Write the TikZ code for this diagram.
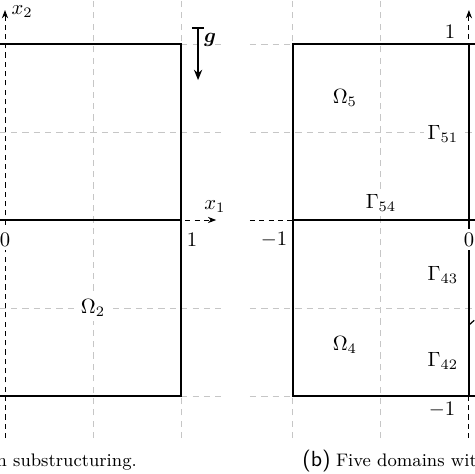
\documentclass[tikz,border=0pt]{standalone}
\usepackage{amsmath,amssymb,bm}
\usetikzlibrary{arrows.meta}
\begin{document}
\begin{tikzpicture}[x=3cm,y=3cm,
  gridline/.style={gray!45,line width=0.45pt,dash pattern=on 3pt off 2.5pt},
  axisline/.style={black,line width=0.45pt,dash pattern=on 2.5pt off 2pt},
  axisarrow/.style={axisline,-{Stealth[length=4pt,width=3pt]}},
  domline/.style={black,line width=0.9pt},
  lbl/.style={fill=white,inner sep=2pt},
  plain/.style={inner sep=1pt}
]
\useasboundingbox (-0.0284,-1.4432) rectangle (2.6648,1.25);
% ---------- left panel ----------
\begin{scope}
  \foreach \y in {1,0.5,-0.5,-1} \draw[gridline] (-0.03,\y) -- (1.244,\y);
  \foreach \x in {0.5,1} \draw[gridline] (\x,-1.239) -- (\x,1.25);
  \coordinate (Lbot) at (0,-1.239);
  \coordinate (Ltop) at (0,1.193);
  \coordinate (Lx1) at (1.2,0);
  \coordinate (Lleft) at (-0.03,0);
  \draw[axisarrow] (Lbot) -- (Ltop);
  \draw[axisarrow] (Lleft) -- (Lx1);
  \draw[domline] (-0.03,1) -- (1,1) -- (1,-1) -- (-0.03,-1);
  \draw[domline] (-0.03,0) -- (1,0);
  \node[lbl] (o0) at (0,-0.11) {$0$};
  \node[plain] (o1) at (1.0625,-0.114) {$1$};
  \node[plain] (lx1) at (1.193,0.074) {$x_1$};
  \node[plain] (lx2) at (0.097,1.186) {$x_2$};
  \node[lbl] (om2) at (0.5,-0.5) {$\Omega_2$};
  \coordinate (gs) at (1.097,1.097);
  \coordinate (ge) at (1.097,0.795);
  \draw[line width=0.8pt,{Bar[width=6pt]}-{Stealth[length=5pt,width=4pt]}] (gs) -- (ge);
  \node[plain] (gl) at (1.165,1.023) {$\bm{g}$};
\end{scope}
% ---------- right panel ----------
\begin{scope}[shift={(2.636,0)}]
  \foreach \y in {1,0.5,-0.5,-1} \draw[gridline] (-1.244,\y) -- (0.1,\y);
  \foreach \x in {-1,-0.5} \draw[gridline] (\x,-1.239) -- (\x,1.25);
  \coordinate (Rbot) at (0,-1.239);
  \coordinate (Rtop) at (0,1.193);
  \coordinate (Rleft) at (-1.244,0);
  \coordinate (Rright) at (0.1,0);
  \draw[axisarrow] (Rbot) -- (Rtop);
  \draw[axisline] (Rleft) -- (Rright);
  \draw[domline] (0.1,1) -- (-1,1) -- (-1,-1) -- (0.1,-1);
  \draw[domline] (-1,0) -- (0.1,0);
  \draw[domline] (0,1) -- (0,-1);
  \draw[line width=0.6pt] (0,-0.597) -- (0.03,-0.57);
  \node[plain] (r1) at (-0.108,1.068) {$1$};
  \node[plain] (rm1) at (-1.108,-0.114) {$-1$};
  \node[lbl] (r0) at (0,-0.11) {$0$};
  \node[plain] (rym1) at (-0.153,-1.08) {$-1$};
  \node[plain] (om5) at (-0.705,0.693) {$\Omega_5$};
  \node[plain] (om4) at (-0.705,-0.71) {$\Omega_4$};
  \node[lbl] (g51) at (-0.148,0.489) {$\Gamma_{51}$};
  \node[lbl] (g54) at (-0.5,0.097) {$\Gamma_{54}$};
  \node[plain] (g43) at (-0.148,-0.31) {$\Gamma_{43}$};
  \node[plain] (g42) at (-0.148,-0.80) {$\Gamma_{42}$};
\end{scope}
% ---------- captions ----------
\node[anchor=base west,inner sep=0pt] (capa) at (-0.05,-1.398) {\fontsize{8.8}{10}\selectfont n substructuring.};
\node[anchor=base west,inner sep=0pt] (capb) at (1.6875,-1.398) {{\sffamily\fontsize{10.6}{12}\selectfont(b)}\hspace{2.6pt}\fontsize{8.8}{10}\selectfont Five domains with};
\end{tikzpicture}
\end{document}
